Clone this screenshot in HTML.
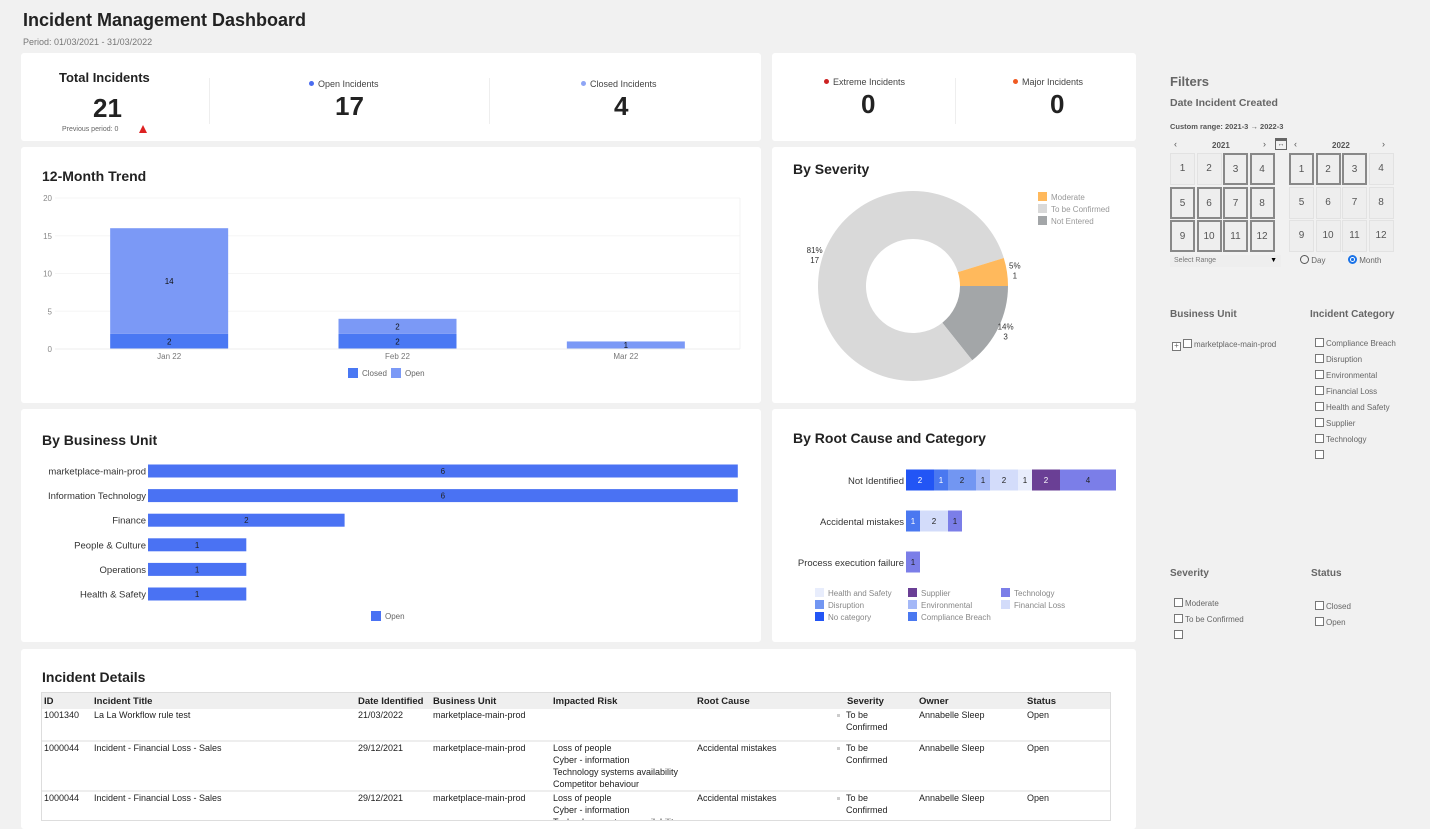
<!DOCTYPE html>
<html><head><meta charset="utf-8">
<style>
*{box-sizing:border-box;margin:0;padding:0}
body{width:1430px;height:821px;overflow:hidden;background:#f1f1f1;font-family:"Liberation Sans",sans-serif;color:#222;position:relative}
.abs{position:absolute}
.card{position:absolute;background:#fff;border-radius:3px}
.h{font-weight:bold;font-size:14px;color:#222;position:absolute}
.sm{font-size:9px;color:#555}
.cb{display:inline-block;width:9px;height:9px;border:1px solid #777;background:#fff;vertical-align:-1px;margin-right:2px}
.fl{position:absolute;font-size:8px;color:#666}
.cell{position:absolute;width:25px;height:32px;background:#eee;border:1px solid #e2e2e2;font-size:10px;color:#555;text-align:center;line-height:30px}
.cell.sel{border:2px solid #888}
table{border-collapse:collapse}
.sev{padding-left:0}
.sev span.d{display:inline-block;width:3px;height:3px;background:#ccc;margin:0 6px 0 0;vertical-align:middle}
</style></head><body>
<div class="abs" style="left:23px;top:10px;font-size:18px;font-weight:bold">Incident Management Dashboard</div>
<div class="abs" style="left:23px;top:37px;font-size:9px;color:#777">Period: 01/03/2021 - 31/03/2022</div>

<div class="card" style="left:21px;top:53px;width:740px;height:88px">
 <div class="abs" style="left:38px;top:17px;font-size:13px;font-weight:bold">Total Incidents</div>
 <div class="abs" style="left:72px;top:40px;font-size:26px;font-weight:bold">21</div>
 <div class="abs" style="left:41px;top:73px;font-size:7px;color:#666">Previous period: 0</div>
 <div class="abs" style="left:118px;top:72px;width:0;height:0;border-left:4px solid transparent;border-right:4px solid transparent;border-bottom:8px solid #d22"></div>
 <div class="abs" style="left:188px;top:25px;width:1px;height:46px;background:#eee"></div>
 <div class="abs" style="left:468px;top:25px;width:1px;height:46px;background:#eee"></div>
 <div class="abs" style="left:288px;top:26px;font-size:9px;color:#444"><span style="display:inline-block;width:5px;height:5px;border-radius:50%;background:#4a6cf0;margin-right:4px;vertical-align:1px"></span>Open Incidents</div>
 <div class="abs" style="left:314px;top:38px;font-size:26px;font-weight:bold">17</div>
 <div class="abs" style="left:560px;top:26px;font-size:9px;color:#444"><span style="display:inline-block;width:5px;height:5px;border-radius:50%;background:#8ea5f5;margin-right:4px;vertical-align:1px"></span>Closed Incidents</div>
 <div class="abs" style="left:593px;top:38px;font-size:26px;font-weight:bold">4</div>
</div>
<div class="card" style="left:772px;top:53px;width:364px;height:88px">
 <div class="abs" style="left:52px;top:24px;font-size:9px;color:#444"><span style="display:inline-block;width:5px;height:5px;border-radius:50%;background:#c22;margin-right:4px;vertical-align:1px"></span>Extreme Incidents</div>
 <div class="abs" style="left:89px;top:36px;font-size:26px;font-weight:bold">0</div>
 <div class="abs" style="left:183px;top:25px;width:1px;height:46px;background:#eee"></div>
 <div class="abs" style="left:241px;top:24px;font-size:9px;color:#444"><span style="display:inline-block;width:5px;height:5px;border-radius:50%;background:#f05a22;margin-right:4px;vertical-align:1px"></span>Major Incidents</div>
 <div class="abs" style="left:278px;top:36px;font-size:26px;font-weight:bold">0</div>
</div>

<div class="card" style="left:21px;top:147px;width:740px;height:256px"><div class="h" style="left:21px;top:21px">12-Month Trend</div></div>
<div class="card" style="left:772px;top:147px;width:364px;height:256px"><div class="h" style="left:21px;top:14px">By Severity</div></div>
<div class="card" style="left:21px;top:409px;width:740px;height:233px"><div class="h" style="left:21px;top:23px">By Business Unit</div></div>
<div class="card" style="left:772px;top:409px;width:364px;height:233px"><div class="h" style="left:21px;top:21px">By Root Cause and Category</div></div>
<div class="card" style="left:21px;top:649px;width:1115px;height:180px"><div class="h" style="left:21px;top:20px">Incident Details</div></div>

<svg class="abs" style="left:0;top:0" width="1430" height="821" id="charts" font-family="Liberation Sans, sans-serif"></svg>

<div class="abs" style="left:41px;top:692px;width:1070px;height:129px;overflow:hidden;border:1px solid #ddd;font-size:9px">
<table style="width:1070px">
<tr style="background:#efefef;height:16px;font-weight:bold;font-size:9.5px"><td style="width:52px;padding-left:2px">ID</td><td style="width:264px">Incident Title</td><td style="width:75px">Date Identified</td><td style="width:120px">Business Unit</td><td style="width:144px">Impacted Risk</td><td style="width:140px">Root Cause</td><td style="width:82px;padding-left:10px">Severity</td><td style="width:108px">Owner</td><td>Status</td></tr>
<tr style="height:32px;vertical-align:top;border-bottom:2px solid #eee;line-height:12px"><td style="padding:0 2px">1001340</td><td>La La Workflow rule test</td><td>21/03/2022</td><td>marketplace-main-prod</td><td></td><td></td><td><span class="sev"><span class="d"></span>To be</span><br><span style="padding-left:9px">Confirmed</span></td><td>Annabelle Sleep</td><td>Open</td></tr>
<tr style="height:48px;vertical-align:top;border-bottom:2px solid #eee;line-height:12px"><td style="padding:0 2px">1000044</td><td>Incident - Financial Loss - Sales</td><td>29/12/2021</td><td>marketplace-main-prod</td><td>Loss of people<br>Cyber - information<br>Technology systems availability<br>Competitor behaviour</td><td>Accidental mistakes</td><td><span class="sev"><span class="d"></span>To be</span><br><span style="padding-left:9px">Confirmed</span></td><td>Annabelle Sleep</td><td>Open</td></tr>
<tr style="height:40px;vertical-align:top;line-height:12px"><td style="padding:0 2px">1000044</td><td>Incident - Financial Loss - Sales</td><td>29/12/2021</td><td>marketplace-main-prod</td><td>Loss of people<br>Cyber - information<br>Technology systems availability</td><td>Accidental mistakes</td><td><span class="sev"><span class="d"></span>To be</span><br><span style="padding-left:9px">Confirmed</span></td><td>Annabelle Sleep</td><td>Open</td></tr>
</table></div>

<div class="abs" style="left:1170px;top:74px;font-size:13px;font-weight:bold;color:#666">Filters</div>
<div class="abs" style="left:1170px;top:97px;font-size:10.5px;font-weight:bold;color:#666">Date Incident Created</div>
<div class="abs" style="left:1170px;top:122px;font-size:7.5px;color:#555;font-weight:bold">Custom range: 2021-3 → 2022-3</div>
<div class="abs" style="left:1174px;top:139px;font-size:9px;color:#555">‹</div>
<div class="abs" style="left:1212px;top:141px;font-size:8px;color:#555;font-weight:bold">2021</div>
<div class="abs" style="left:1263px;top:139px;font-size:9px;color:#555">›</div>
<div class="abs" style="left:1275px;top:138px;width:12px;height:12px;border:1.5px solid #666;border-top-width:3px;font-size:7px;line-height:7px;text-align:center;color:#555">↔</div>
<div class="abs" style="left:1294px;top:139px;font-size:9px;color:#555">‹</div>
<div class="abs" style="left:1332px;top:141px;font-size:8px;color:#555;font-weight:bold">2022</div>
<div class="abs" style="left:1382px;top:139px;font-size:9px;color:#555">›</div>
<div id="cal"></div>
<div class="abs" style="left:1170px;top:255px;width:111px;height:12px;background:#eee;font-size:7px;color:#777;padding:2px 4px">Select Range<span style="float:right;color:#000">▼</span></div>
<div class="abs" style="left:1300px;top:255px;font-size:8px;color:#666"><span style="display:inline-block;width:9px;height:9px;border:1px solid #555;border-radius:50%;vertical-align:-1px"></span> Day</div>
<div class="abs" style="left:1348px;top:255px;font-size:8px;color:#666"><span style="display:inline-block;width:9px;height:9px;border:2px solid #1a73e8;border-radius:50%;background:radial-gradient(#1a73e8 40%,#fff 50%);vertical-align:-1px"></span> Month</div>

<div class="abs" style="left:1170px;top:309px;font-size:10px;font-weight:bold;color:#666">Business Unit</div>
<div class="abs" style="left:1310px;top:309px;font-size:10px;font-weight:bold;color:#666">Incident Category</div>
<div class="fl" style="left:1172px;top:339px"><span class="cb" style="text-align:center;line-height:6px;font-size:8px">+</span><span class="cb"></span>marketplace-main-prod</div>
<div id="catf"></div>
<div class="abs" style="left:1170px;top:568px;font-size:10px;font-weight:bold;color:#666">Severity</div>
<div class="abs" style="left:1311px;top:568px;font-size:10px;font-weight:bold;color:#666">Status</div>
<div class="fl" style="left:1174px;top:598px"><span class="cb"></span>Moderate</div>
<div class="fl" style="left:1174px;top:614px"><span class="cb"></span>To be Confirmed</div>
<div class="fl" style="left:1174px;top:630px"><span class="cb"></span></div>
<div class="fl" style="left:1315px;top:601px"><span class="cb"></span>Closed</div>
<div class="fl" style="left:1315px;top:617px"><span class="cb"></span>Open</div>

<script>
const trendMonths = ["Jan 22","Feb 22","Mar 22"];
const trendClosed = [2,2,0];
const trendOpen = [14,2,1];
const trendTicks = [0,5,10,15,20];
const sevLabels = ["Moderate","To be Confirmed","Not Entered"];
const sevValues = [1,17,3];
const buNames = ["marketplace-main-prod","Information Technology","Finance","People & Culture","Operations","Health & Safety"];
const buValues = [6,6,2,1,1,1];
const rcCauses = ["Not Identified","Accidental mistakes","Process execution failure"];
const rcCategories = ["No category","Compliance Breach","Disruption","Environmental","Financial Loss","Health and Safety","Supplier","Technology"];
const rcNoCategory = [2,0,0];
const rcCompliance = [1,1,0];
const rcDisruption = [2,0,0];
const rcEnvironmental = [1,0,0];
const rcFinancial = [2,2,0];
const rcHealth = [1,0,0];
const rcSupplier = [2,0,0];
const rcTechnology = [4,1,1];

const NS="http://www.w3.org/2000/svg";
const svg=document.getElementById('charts');
function mk(tag,attrs,txt,parent){const e=document.createElementNS(NS,tag);for(const k in attrs)e.setAttribute(k,attrs[k]);if(txt!==undefined)e.textContent=txt;(parent||svg).appendChild(e);return e;}

const tx0=55,tx1=740,ty0=349,ty1=198;
const ty=v=>ty0-(v/20)*(ty0-ty1);
const bandW=(tx1-tx0)/trendMonths.length;
const tx=i=>tx0+bandW*i+bandW/2;
trendTicks.forEach(t=>{
 let l=mk('line',{x1:tx0,x2:tx1,y1:ty(t),y2:ty(t),stroke:'#f5f5f5'});
 
 
 let s=mk('text',{x:tx0-3,y:ty(t)+3,'font-size':8,fill:'#888','text-anchor':'end'},t);
 
 
});
mk('line',{x1:tx1,x2:tx1,y1:ty1,y2:ty0,stroke:'#f3f3f3'});
trendMonths.forEach((m,i)=>{
 const bw=118,x=tx(i)-bw/2;
 if(trendClosed[i]>0){let r=mk('rect',{x:x,y:ty(trendClosed[i]),width:bw,height:ty0-ty(trendClosed[i]),fill:'#4a78f3'});
  
  
  mk('text',{x:tx(i),y:(ty(trendClosed[i])+ty0)/2+3,'font-size':8,'text-anchor':'middle',fill:'#111'},trendClosed[i]);}
 const top=trendClosed[i]+trendOpen[i];
 let r=mk('rect',{x:x,y:ty(top),width:bw,height:ty(trendClosed[i])-ty(top),fill:'#7b99f6'});
 
 
 mk('text',{x:tx(i),y:(ty(top)+ty(trendClosed[i]))/2+3,'font-size':8,'text-anchor':'middle',fill:'#111'},trendOpen[i]);
 let s=mk('text',{x:tx(i),y:ty0+10,'font-size':8,'text-anchor':'middle',fill:'#777'},m);
 
 
});
mk('line',{x1:tx0,x2:tx1,y1:ty0,y2:ty0,stroke:'#eeeeee'});
mk('rect',{x:348,y:368,width:10,height:10,fill:'#4a78f3'});mk('text',{x:362,y:376,'font-size':8,fill:'#666'},'Closed');
mk('rect',{x:391,y:368,width:10,height:10,fill:'#7b99f6'});mk('text',{x:405,y:376,'font-size':8,fill:'#666'},'Open');

const cx=913,cy=286,R=95,r0=47;
const sevColors={"Moderate":"#ffb95c","To be Confirmed":"#d9d9d9","Not Entered":"#a3a6a8"};
const total=sevValues.reduce((a,b)=>a+b,0);
const order=[2,1,0];let ang=0;
order.forEach(i=>{
 const a0=ang,a1=ang+sevValues[i]/total*2*Math.PI;ang=a1;
 const p=(a,rr)=>[cx+rr*Math.cos(a),cy+rr*Math.sin(a)];
 const lg=(a1-a0)>Math.PI?1:0;
 const [x0,y0]=p(a0,R),[x1,y1]=p(a1,R),[x2,y2]=p(a1,r0),[x3,y3]=p(a0,r0);
 let s=mk('path',{d:`M${x0},${y0}A${R},${R} 0 ${lg} 1 ${x1},${y1}L${x2},${y2}A${r0},${r0} 0 ${lg} 0 ${x3},${y3}Z`,fill:sevColors[sevLabels[i]]});
 
 
 const am=(a0+a1)/2;const [lx,ly]=p(am,R+10);
 const anc=Math.cos(am)>0?'start':'end';
 mk('text',{x:lx+(anc=='start'?-2:2),y:ly-2,'font-size':8,fill:'#333','text-anchor':'middle'},Math.round(sevValues[i]/total*100)+'%');
 mk('text',{x:lx+(anc=='start'?-2:2),y:ly+8,'font-size':8,fill:'#333','text-anchor':'middle'},sevValues[i]);
});
sevLabels.forEach((l,i)=>{
 let r=mk('rect',{x:1038,y:192+i*12,width:9,height:9,fill:sevColors[l]});
 
 
 mk('text',{x:1051,y:200+i*12,'font-size':8,fill:'#999'},l);
});

const bx0=148,bpx=98.3;
const bStep=24.6;
buNames.forEach((n,i)=>{
 const yc=471+i*bStep;
 let r=mk('rect',{x:bx0,y:yc-6.5,width:buValues[i]*bpx,height:13,fill:'#4a72f3'});
 
 
 mk('text',{x:bx0+buValues[i]*bpx/2,y:yc+3,'font-size':8,'text-anchor':'middle',fill:'#222'},buValues[i]);
 let t=mk('text',{x:bx0-2,y:yc+3.5,'font-size':9.5,'text-anchor':'end',fill:'#333'},n);
 
 
});
mk('rect',{x:371,y:611,width:10,height:10,fill:'#4a72f3'});mk('text',{x:385,y:619,'font-size':8,fill:'#666'},'Open');

const rcColors=["#2255f5","#4a78f0","#7296f2","#a4b8f7","#d3dcfa","#e8edfc","#6a3f95","#7b7ee8"];
const rcSeries=[rcNoCategory,rcCompliance,rcDisruption,rcEnvironmental,rcFinancial,rcHealth,rcSupplier,rcTechnology];
const rx0=906,rpx=14;
rcCauses.forEach((c,j)=>{
 const yc=480+j*41;let acc=0;
 rcSeries.forEach((s,k)=>{
  if(!s[j])return;
  let r=mk('rect',{x:rx0+acc*rpx,y:yc-10.5,width:s[j]*rpx,height:21,fill:rcColors[k]});
  
  
  mk('text',{x:rx0+(acc+s[j]/2)*rpx,y:yc+3,'font-size':8,'text-anchor':'middle',fill:(k===6||k===0||k===1)?'#fff':'#222'},s[j]);
  acc+=s[j];
 });
 let t=mk('text',{x:rx0-2,y:yc+4,'font-size':9.5,'text-anchor':'end',fill:'#333'},c);
 
 
});
const legOrder=[[5,0,0],[6,1,0],[7,2,0],[2,0,1],[3,1,1],[4,2,1],[0,0,2],[1,1,2]];
legOrder.forEach(([k,col,row])=>{
 const x=815+col*93,y=588+row*12;
 let r=mk('rect',{x:x,y:y,width:9,height:9,fill:rcColors[k]});
 
 
 mk('text',{x:x+13,y:y+8,'font-size':8,fill:'#888'},rcCategories[k]);
});

const cal=document.getElementById('cal');
const selL=[3,4,5,6,7,8,9,10,11,12],selR=[1,2,3];
for(let i=0;i<12;i++){
 const c=i%4,r=Math.floor(i/4);
 [[1170,selL],[1289,selR]].forEach(([x0,sel])=>{
  const d=document.createElement('div');d.className='cell'+(sel.includes(i+1)?' sel':'');
  d.style.left=(x0+c*26.5)+'px';d.style.top=(153+r*33.5)+'px';d.textContent=i+1;
  
  
  cal.appendChild(d);
 });
}
const cats=["Compliance Breach","Disruption","Environmental","Financial Loss","Health and Safety","Supplier","Technology",""];
const cf=document.getElementById('catf');
cats.forEach((c,i)=>{
 const d=document.createElement('div');d.className='fl';d.style.left='1315px';d.style.top=(338+i*16)+'px';
 d.innerHTML='<span class="cb"></span>'+c;
 
 
 cf.appendChild(d);
});
</script>
</body></html>
